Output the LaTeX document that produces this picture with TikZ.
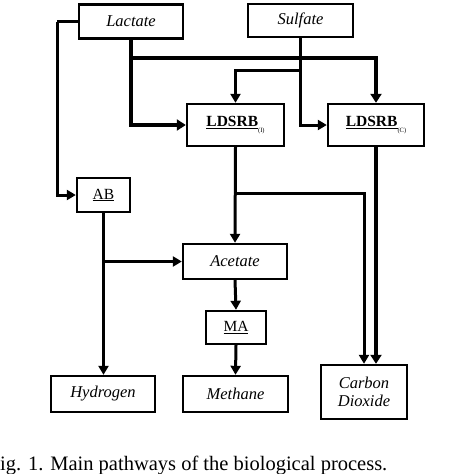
\documentclass[tikz,border=0pt]{standalone}
\usepackage{fontspec}
\setmainfont{Liberation Serif}
\usetikzlibrary{arrows.meta}
\begin{document}
\begin{tikzpicture}[x=1pt,y=-1pt,
  box/.style={draw,line width=2.4pt,inner sep=0pt,align=center,font=\fontsize{16.5}{18}\selectfont\itshape},
  conn/.style={line width=3pt,-{Triangle[width=10pt,length=9pt]}},
  heavy/.style={line width=4.4pt,-{Triangle[width=11pt,length=9pt]}},
  plainline/.style={line width=3pt}]
\useasboundingbox (0,0) rectangle (474,474);
\fill[white] (0,0) rectangle (474,474);
% nodes
\node[box,minimum width=104pt,minimum height=34pt] (lac) at (131,21.5) {Lactate};
\node[box,minimum width=105pt,minimum height=33pt] (sul) at (300.5,20.5) {Sulfate};
\node[box,font=\fontsize{15.5}{16}\selectfont\bfseries,minimum width=97pt,minimum height=42pt] (ld1) at (235.5,125)
  {\underline{LDSRB}\raisebox{-0.8ex}{\fontsize{6.5}{7}\selectfont\mdseries(I)}};
\node[box,font=\fontsize{15.5}{16}\selectfont\bfseries,minimum width=96pt,minimum height=42pt] (ld2) at (376,125)
  {\underline{LDSRB}\raisebox{-0.8ex}{\fontsize{6.5}{7}\selectfont\mdseries(C)}};
\node[box,font=\fontsize{15.5}{16}\selectfont,minimum width=53pt,minimum height=34pt] (ab) at (103.5,195) {\underline{AB}};
\node[box,minimum width=104pt,minimum height=35pt] (ace) at (235,261.5) {Acetate};
\node[box,font=\fontsize{15.5}{16}\selectfont,minimum width=60pt,minimum height=33pt] (ma) at (236,327.5) {\underline{MA}};
\node[box,minimum width=104pt,minimum height=36pt] (hyd) at (103,394) {Hydrogen};
\node[box,minimum width=105pt,minimum height=36pt] (met) at (235.5,394) {Methane};
\node[box,minimum width=86pt,minimum height=54pt] (co2) at (364,392) {Carbon\\Dioxide};
% junction coordinates
\coordinate (j1) at (lac.south |- 0,58);
\coordinate (j2) at (sul.south |- 0,70);
\coordinate (j3) at (ab.south |- ace.west);
\coordinate (j4) at (ld1.south |- 0,193);
\coordinate (k1) at (57,21.5);
% connectors
\draw[heavy] (lac.south) |- (ld1.west);
\draw[heavy] (j1) -| (ld2.north);
\draw[conn] (sul.south) |- (ld2.west);
\draw[conn] (j2) -| (ld1.north);
\draw[plainline] (lac.west) -- (k1);
\draw[conn] (k1) |- (ab.west);
\draw[conn] (ab.south) -- (ab.south |- hyd.north);
\draw[conn] (j3) -- (ace.west);
\draw[conn] (ld1.south) -- (ace.north);
\draw[conn] (j4) -| (co2.north);
\draw[heavy] (ld2.south) -- (ld2.south |- co2.north);
\draw[conn] (ace.south) -- (ma.north);
\draw[conn] (ma.south) -- (met.north);
% caption
\node[anchor=base west,inner sep=0pt,font=\fontsize{20.5}{22}\selectfont] (cap) at (0,470) {ig. 1. Main pathways of the biological process.};
\end{tikzpicture}
\end{document}
